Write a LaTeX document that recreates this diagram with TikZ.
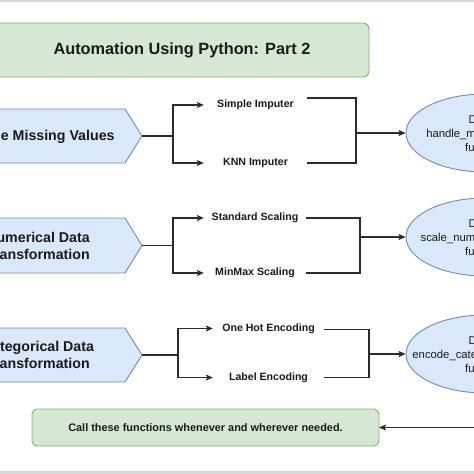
\documentclass[tikz,border=0pt]{standalone}
\usepackage{fontspec}
\setmainfont{Liberation Sans}
\usetikzlibrary{arrows.meta,shapes.geometric}
\definecolor{gfill}{HTML}{D5E8D4}
\definecolor{gline}{HTML}{82B366}
\definecolor{bfill}{HTML}{DAE8FC}
\definecolor{bline}{HTML}{6C8EBF}
\definecolor{barcol}{HTML}{D9D9D9}
\definecolor{ink}{HTML}{1A1A1A}
\definecolor{wire}{HTML}{2B2B2B}
\tikzset{
  greenbox/.style={draw=gline, fill=gfill, line width=0.9pt, rounded corners=6pt},
  penta/.style={draw=bline!80!gray, fill=bfill, line width=0.9pt},
  pentatext/.style={font=\fontsize{14.2}{17}\selectfont\bfseries, text=ink, align=center, inner sep=0pt},
  lbl/.style={font=\fontsize{10.6}{12}\selectfont\bfseries, text=ink, inner sep=0pt, minimum height=12pt},
  fnell/.style={ellipse, draw=bline!85!gray, fill=bfill, line width=0.9pt, minimum width=158pt, minimum height=78pt, inner sep=0pt},
  fntext/.style={font=\fontsize{11.3}{14}\selectfont, text=ink, align=center, inner sep=0pt},
  conn/.style={draw=wire, line width=1.2pt},
  arr/.style={conn, -{Stealth[length=7pt,width=6pt,inset=1.5pt]}},
}
\begin{document}
\begin{tikzpicture}[x=1pt,y=-1pt]
\useasboundingbox (0,0) rectangle (474,474);
\clip (0,0) rectangle (474,474);
\fill[white] (0,0) rectangle (474,474);
\fill[barcol] (0,0) rectangle (474,2);
\fill[barcol] (0,471) rectangle (474,474);

% title
\draw[greenbox] (-8,23) rectangle (369,77);
\node[font=\fontsize{16.3}{19}\selectfont\bfseries, text=ink, inner sep=0pt] (title) at (182,50) {Automation Using Python: Part 2};

% pentagons
\draw[penta] (-80,109) -- (125,109) -- (142,136) -- (125,163) -- (-80,163) -- cycle;
\coordinate (tip1) at (142,136);
\node[pentatext] (p1) at (38,137) {Handle Missing Values};

\draw[penta] (-80,218) -- (125,218) -- (142,245.5) -- (125,273) -- (-80,273) -- cycle;
\coordinate (tip2) at (142,245.5);
\node[pentatext] (p2) at (38,245.5) {Numerical Data\\Transformation};

\draw[penta] (-80,328) -- (125,328) -- (142,355) -- (125,382) -- (-80,382) -- cycle;
\coordinate (tip3) at (142,355);
\node[pentatext] (p3) at (38,355) {Categorical Data\\Transformation};

% labels
\node[lbl, minimum width=103pt] (si) at (255.5,105) {Simple Imputer};
\node[lbl, minimum width=103pt] (knn) at (255.5,163) {KNN Imputer};
\node[lbl, minimum width=102pt] (ss) at (255,218) {Standard Scaling};
\node[lbl, minimum width=102pt] (mm) at (255,273) {MinMax Scaling};
\node[lbl, minimum width=111pt] (oh) at (268.5,328.5) {One Hot Encoding};
\node[lbl, minimum width=111pt] (le) at (268.5,377.5) {Label Encoding};

% ellipses
\node[fnell] (e1) at (485,133) {};
\node[fntext] (t1) at (e1.center) {Define\\handle\_missing\_values\\function};
\node[fnell] (e2) at (485,237) {};
\node[fntext] (t2) at (e2.center) {Define\\scale\_numerical\_features\\function};
\node[fnell] (e3) at (485,354) {};
\node[fntext] (t3) at (e3.center) {Define\\encode\_categorical\_features\\function};

% bottom box
\draw[greenbox, rounded corners=5pt] (32,409) rectangle (379,446);
\node[font=\fontsize{10.9}{13}\selectfont\bfseries, text=ink, inner sep=0pt] (bot) at (205.5,427.5) {Call these functions whenever and wherever needed.};
\coordinate (botr) at (379,427.5);
\coordinate (rin) at (480,427.5);

% junctions
\coordinate (j1l) at (173,136);
\coordinate (j1r) at (356,133);
\coordinate (j2l) at (173,245.5);
\coordinate (j2r) at (360,237);
\coordinate (j3l) at (178,355);
\coordinate (j3r) at (369,354);

% group 1
\draw[conn] (tip1) -- (j1l);
\draw[arr] (j1l) |- (si.west);
\draw[arr] (j1l) |- (knn.west);
\draw[conn] ([yshift=7pt]si.east) -| (j1r) |- (knn.east);
\draw[arr] (j1r) -- (e1.west);

% group 2
\draw[conn] (tip2) -- (j2l);
\draw[arr] (j2l) |- (ss.west);
\draw[arr] (j2l) |- (mm.west);
\draw[conn] (ss.east) -| (j2r) |- (mm.east);
\draw[arr] (j2r) -- (e2.west);

% group 3
\draw[conn] (tip3) -- (j3l);
\draw[arr] (j3l) |- (oh.west);
\draw[arr] (j3l) |- (le.west);
\draw[conn] ([yshift=-1pt]oh.east) -| (j3r) |- (le.east);
\draw[arr] (j3r) -- (e3.west);

% bottom arrow
\draw[arr] (rin) -- (botr);
\end{tikzpicture}
\end{document}
